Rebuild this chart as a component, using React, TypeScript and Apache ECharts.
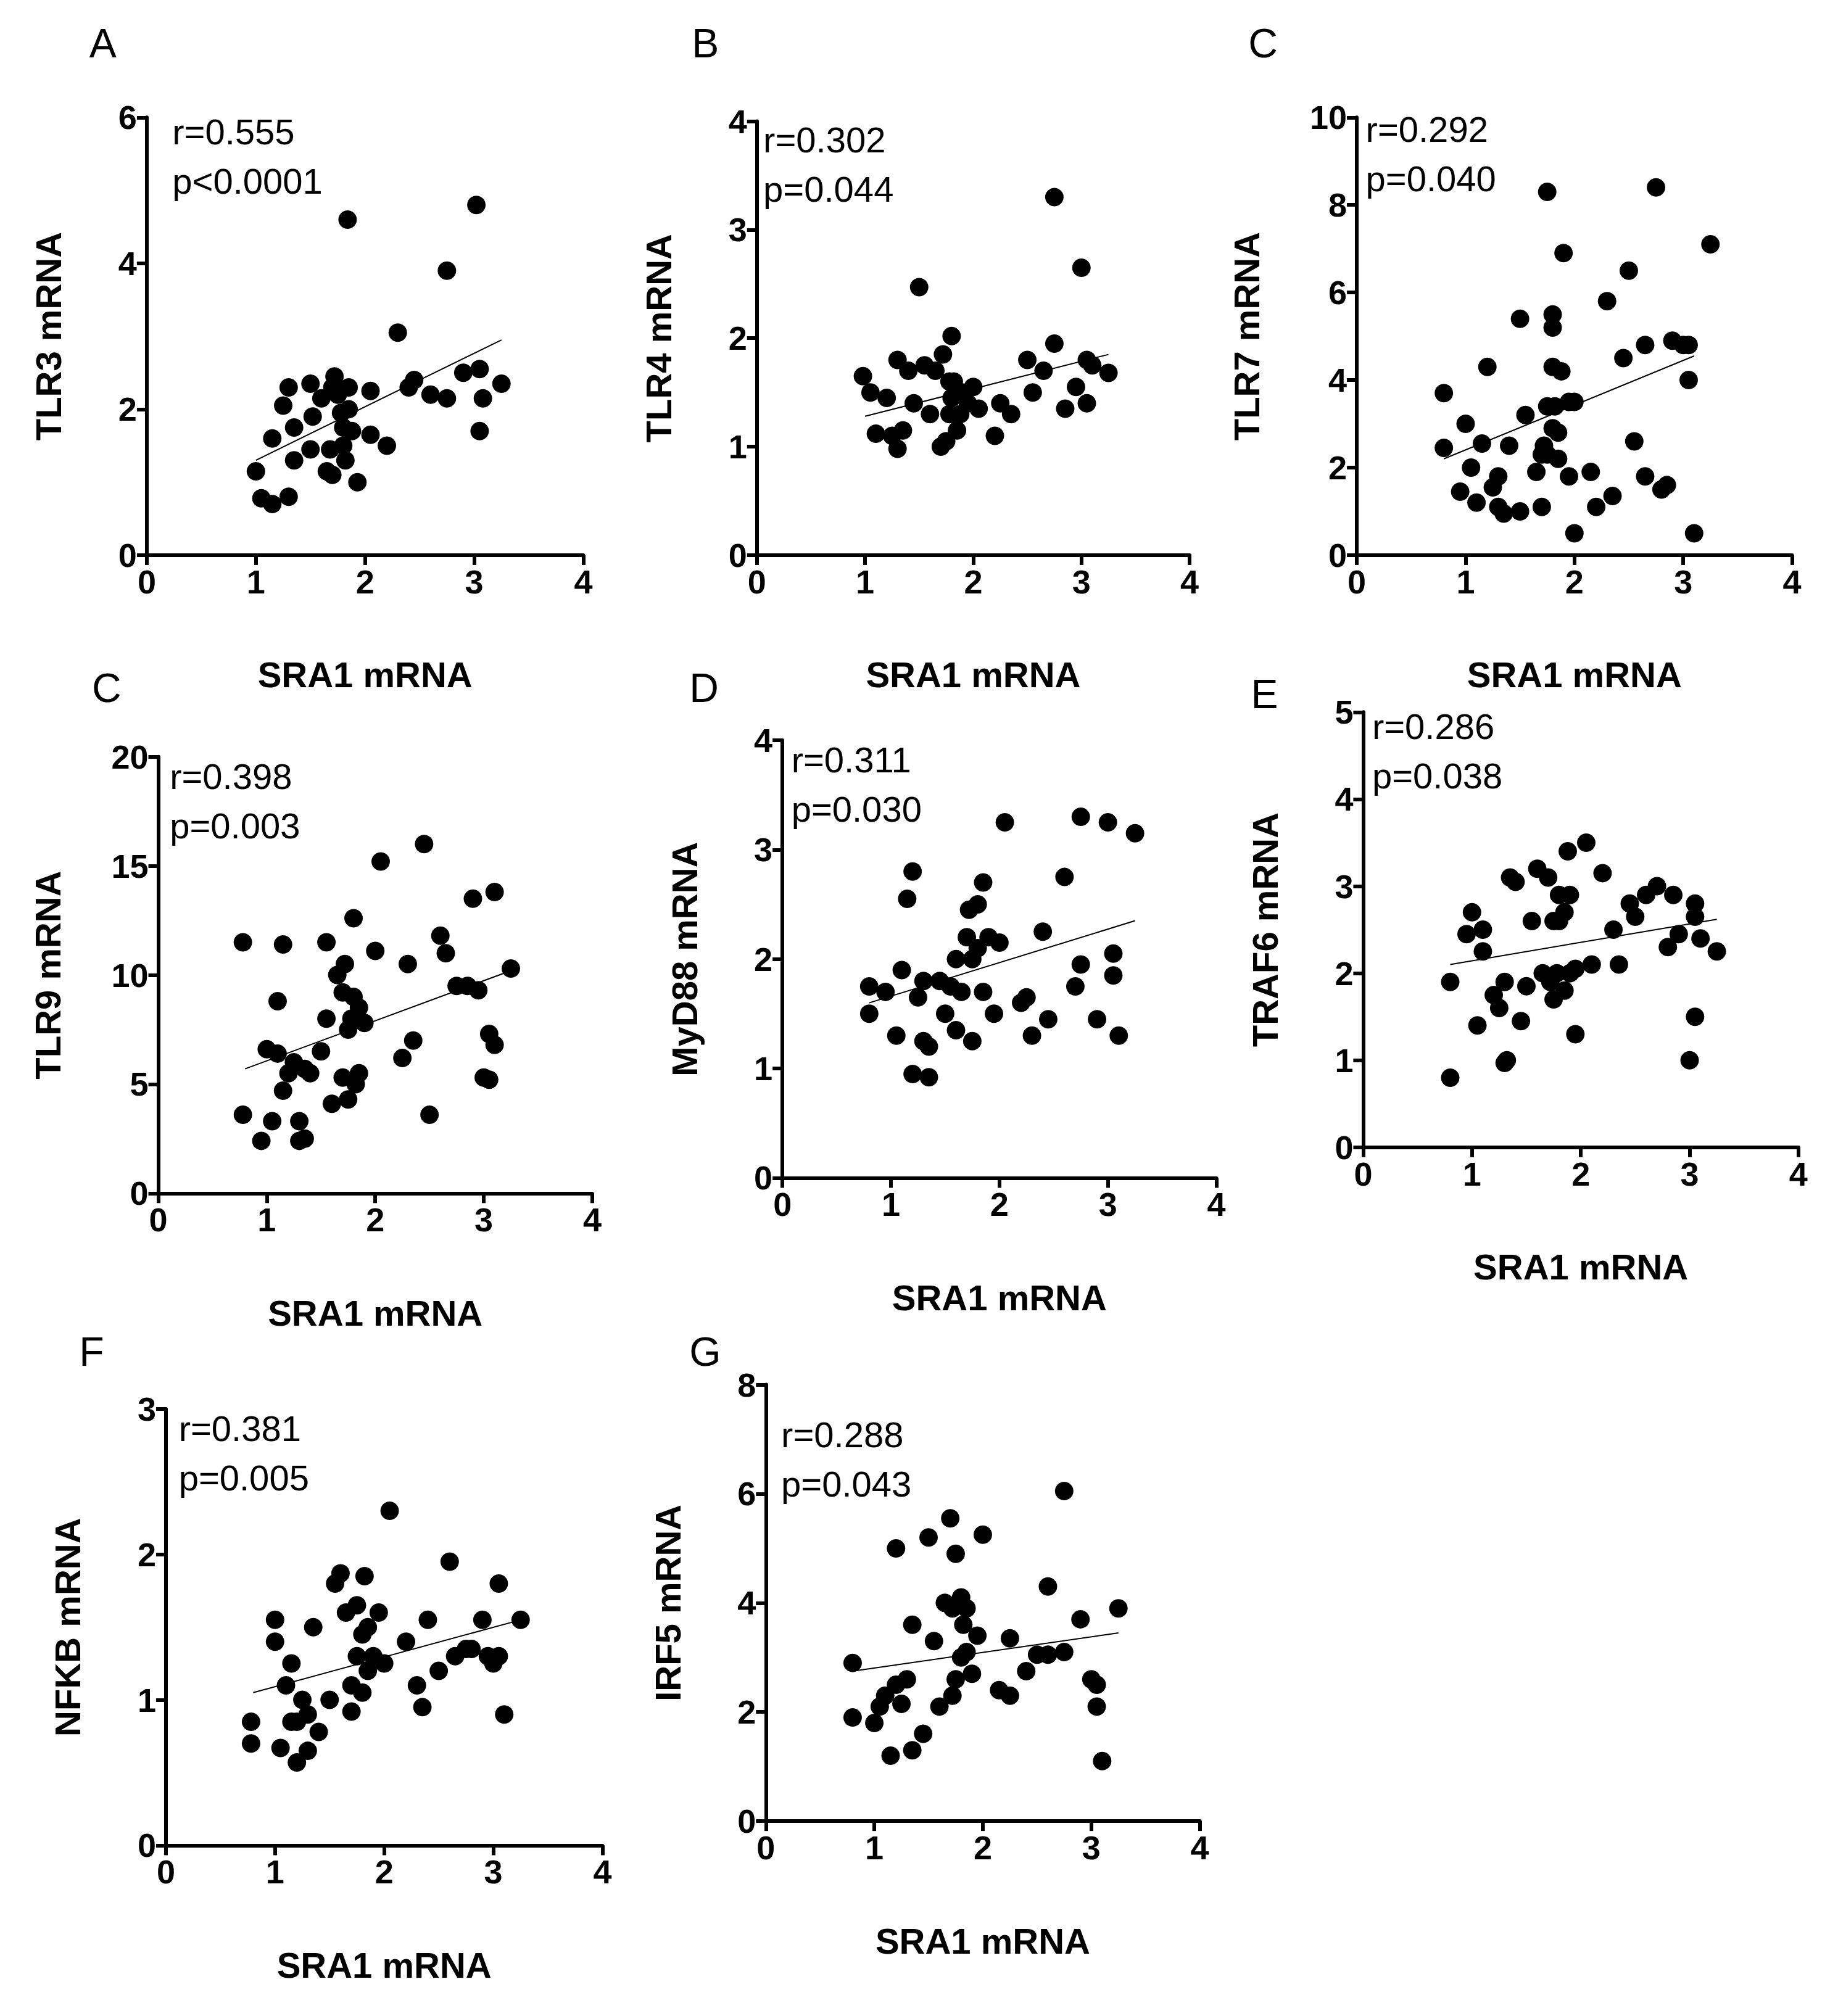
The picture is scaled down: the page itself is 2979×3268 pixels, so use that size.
import { useEffect, useRef } from "react";
import * as echarts from "echarts";

// values: [SRA1 mRNA, target mRNA]
const tlr3 = [[1.0,1.15],[1.05,0.78],[1.15,1.6],[1.15,0.7],[1.25,2.05],[1.3,2.3],[1.3,0.8],[1.35,1.3],[1.35,1.75],[1.5,1.45],[1.5,2.35],[1.6,2.15],[1.65,1.15],[1.7,1.1],[1.7,2.3],[1.72,2.45],[1.75,2.2],[1.78,1.95],[1.8,1.75],[1.8,1.5],[1.82,1.3],[1.85,2.3],[1.85,2.0],[1.88,1.7],[1.93,1.0],[1.84,4.6],[2.05,1.65],[2.05,2.25],[2.2,1.5],[2.3,3.05],[2.4,2.3],[2.45,2.4],[2.6,2.2],[2.75,2.15],[2.75,3.9],[2.9,2.5],[3.02,4.8],[3.05,1.7],[3.08,2.15],[3.05,2.55],[3.25,2.35],[1.68,1.45],[1.52,1.9]];
const tlr4 = [[0.98,1.65],[1.05,1.5],[1.1,1.12],[1.2,1.45],[1.25,1.1],[1.3,1.8],[1.3,0.98],[1.35,1.15],[1.45,1.4],[1.5,2.47],[1.55,1.75],[1.6,1.3],[1.65,1.7],[1.7,1.0],[1.72,1.85],[1.75,1.05],[1.78,1.3],[1.8,2.02],[1.8,1.45],[1.82,1.6],[1.85,1.15],[1.88,1.3],[1.9,1.5],[1.95,1.4],[2.0,1.55],[2.05,1.35],[2.2,1.1],[2.25,1.4],[2.35,1.3],[2.5,1.8],[2.55,1.5],[2.65,1.7],[2.75,1.95],[2.75,3.3],[2.85,1.35],[2.95,1.55],[3.0,2.65],[3.05,1.8],[3.05,1.4],[3.1,1.75],[3.25,1.68],[1.78,1.6],[1.4,1.7]];
const tlr7 = [[0.8,3.7],[0.8,2.45],[0.95,1.45],[1.0,3.0],[1.05,2.0],[1.1,1.2],[1.15,2.55],[1.2,4.3],[1.25,1.55],[1.3,1.8],[1.3,1.1],[1.35,0.95],[1.4,2.5],[1.5,1.0],[1.5,5.4],[1.55,3.2],[1.65,1.9],[1.7,1.1],[1.72,2.5],[1.75,8.3],[1.75,2.3],[1.8,2.9],[1.8,4.3],[1.8,5.2],[1.8,5.5],[1.82,3.4],[1.85,2.2],[1.85,2.8],[1.88,4.2],[1.9,6.9],[1.95,1.8],[1.95,3.5],[2.0,0.5],[2.0,3.5],[2.15,1.9],[2.2,1.1],[2.3,5.8],[2.35,1.35],[2.45,4.5],[2.5,6.5],[2.55,2.6],[2.65,1.8],[2.65,4.8],[2.75,8.4],[2.8,1.5],[2.85,1.6],[2.9,4.9],[3.0,4.8],[3.05,4.8],[3.05,4.0],[3.1,0.5],[3.25,7.1],[1.75,3.4],[1.7,2.3]];
const tlr9 = [[0.78,11.5],[0.78,3.6],[0.95,2.4],[1.0,6.6],[1.05,3.3],[1.1,6.4],[1.1,8.8],[1.15,11.4],[1.15,4.7],[1.2,5.5],[1.25,6.0],[1.3,3.3],[1.3,2.4],[1.35,2.5],[1.35,5.7],[1.4,5.5],[1.55,8.0],[1.55,11.5],[1.6,4.1],[1.65,10.0],[1.7,5.3],[1.72,10.5],[1.75,4.3],[1.75,7.5],[1.78,8.0],[1.8,9.0],[1.8,12.6],[1.82,5.0],[1.85,5.5],[1.85,8.5],[1.9,7.8],[2.0,11.1],[2.05,15.2],[2.25,6.2],[2.3,10.5],[2.35,7.0],[2.45,16.0],[2.5,3.6],[2.6,11.8],[2.65,11.0],[2.75,9.5],[2.85,9.5],[2.9,13.5],[2.95,9.3],[3.0,5.3],[3.05,5.2],[3.05,7.3],[3.1,13.8],[3.1,6.8],[3.25,10.3],[1.7,9.2],[1.5,6.5]];
const myd88 = [[0.8,1.75],[0.8,1.5],[0.95,1.7],[1.05,1.3],[1.1,1.9],[1.15,2.55],[1.2,2.8],[1.2,0.95],[1.25,1.65],[1.3,1.25],[1.3,1.8],[1.35,0.92],[1.35,1.2],[1.45,1.8],[1.5,1.5],[1.6,1.35],[1.6,2.0],[1.65,1.7],[1.7,2.2],[1.72,2.45],[1.75,1.25],[1.75,2.0],[1.8,2.5],[1.8,2.1],[1.85,2.7],[1.85,1.7],[1.9,2.2],[1.95,1.5],[2.0,2.15],[2.05,3.25],[2.2,1.6],[2.25,1.65],[2.3,1.3],[2.4,2.25],[2.45,1.45],[2.6,2.75],[2.7,1.75],[2.75,1.95],[2.75,3.3],[2.9,1.45],[3.0,3.25],[3.05,2.05],[3.05,1.85],[3.1,1.3],[3.25,3.15],[1.55,1.75]];
const traf6 = [[0.8,0.8],[0.8,1.9],[0.95,2.45],[1.0,2.7],[1.05,1.4],[1.1,2.25],[1.1,2.5],[1.2,1.75],[1.25,1.6],[1.3,1.9],[1.3,0.97],[1.32,1.0],[1.35,3.1],[1.4,3.05],[1.45,1.45],[1.5,1.85],[1.55,2.6],[1.6,3.2],[1.65,2.0],[1.7,3.1],[1.72,1.9],[1.75,1.7],[1.78,2.0],[1.8,2.6],[1.8,2.9],[1.85,1.8],[1.85,2.7],[1.88,3.4],[1.9,2.0],[1.9,2.9],[1.95,2.05],[1.95,1.3],[2.05,3.5],[2.1,2.1],[2.2,3.15],[2.3,2.5],[2.35,2.1],[2.45,2.8],[2.5,2.65],[2.6,2.9],[2.7,3.0],[2.8,2.3],[2.85,2.9],[2.9,2.45],[3.0,1.0],[3.05,2.65],[3.05,2.8],[3.05,1.5],[3.1,2.4],[3.25,2.25],[1.75,2.6]];
const nfkb = [[0.78,0.85],[0.78,0.7],[1.0,1.55],[1.0,1.4],[1.05,0.67],[1.1,1.1],[1.15,1.25],[1.2,0.85],[1.2,0.57],[1.25,1.0],[1.3,0.9],[1.3,0.65],[1.35,1.5],[1.4,0.78],[1.5,1.0],[1.55,1.8],[1.6,1.87],[1.65,1.6],[1.7,0.92],[1.75,1.65],[1.75,1.3],[1.8,1.45],[1.8,1.05],[1.82,1.85],[1.85,1.2],[1.85,1.5],[1.9,1.3],[1.95,1.6],[2.0,1.25],[2.05,2.3],[2.2,1.4],[2.3,1.1],[2.35,0.95],[2.4,1.55],[2.5,1.2],[2.6,1.95],[2.65,1.3],[2.75,1.35],[2.8,1.35],[2.9,1.55],[2.95,1.3],[3.0,1.25],[3.05,1.8],[3.05,1.3],[3.1,0.9],[3.25,1.55],[1.15,0.85],[1.7,1.1]];
const irf5 = [[0.8,2.9],[0.8,1.9],[1.0,1.8],[1.05,2.1],[1.1,2.3],[1.15,1.2],[1.2,5.0],[1.2,2.5],[1.25,2.15],[1.3,2.6],[1.35,1.3],[1.35,3.6],[1.45,1.6],[1.5,5.2],[1.55,3.3],[1.6,2.1],[1.65,4.0],[1.7,5.55],[1.72,2.3],[1.72,3.9],[1.75,2.6],[1.75,4.9],[1.8,4.1],[1.8,3.0],[1.82,3.6],[1.85,3.1],[1.85,3.9],[1.9,2.7],[1.95,3.4],[2.0,5.25],[2.15,2.4],[2.25,2.3],[2.25,3.35],[2.4,2.75],[2.5,3.05],[2.6,4.3],[2.6,3.05],[2.75,6.05],[2.75,3.1],[2.9,3.7],[3.0,2.6],[3.05,2.1],[3.05,2.5],[3.1,1.1],[3.25,3.9]];

// fitted line end points
const fits = [
  [[1, 1.3], [3.25, 2.95]],
  [[1, 1.28], [3.25, 1.85]],
  [[0.8, 2.2], [3.1, 4.55]],
  [[0.8, 5.7], [3.25, 10.2]],
  [[0.8, 1.6], [3.25, 2.35]],
  [[0.8, 2.1], [3.25, 2.62]],
  [[0.8, 1.05], [3.25, 1.55]],
  [[0.8, 2.75], [3.25, 3.45]],
];
const yNames = ["TLR3 mRNA", "TLR4 mRNA", "TLR7 mRNA", "TLR9 mRNA", "MyD88 mRNA", "TRAF6 mRNA", "NFKB mRNA", "IRF5 mRNA"];
const letters = ["A", "B", "C", "C", "D", "E", "F", "G"];
const stats = [
  ["r=0.555", "p<0.0001"], ["r=0.302", "p=0.044"], ["r=0.292", "p=0.040"], ["r=0.398", "p=0.003"],
  ["r=0.311", "p=0.030"], ["r=0.286", "p=0.038"], ["r=0.381", "p=0.005"], ["r=0.288", "p=0.043"],
];
const yMax = [6, 4, 10, 20, 4, 5, 3, 8];
const yStep = [2, 1, 2, 5, 1, 1, 1, 2];
const datasets = [tlr3, tlr4, tlr7, tlr9, myd88, traf6, nfkb, irf5];

const S = 2979 / 1440;
// layout in reference display units: x0, x4, yTop, yBottom, letter pos, stats pos
const panels = [
  { x0: 115, x4: 457, yt: 92, yb: 435, lx: 70, ly: 18, sx: 135, sy: 84 },
  { x0: 593, x4: 932, yt: 95, yb: 435, lx: 542, ly: 18, sx: 598, sy: 90 },
  { x0: 1063, x4: 1404, yt: 92, yb: 435, lx: 978, ly: 18, sx: 1070, sy: 82 },
  { x0: 124, x4: 464, yt: 593, yb: 935, lx: 72, ly: 523, sx: 133, sy: 589 },
  { x0: 613, x4: 953, yt: 580, yb: 923, lx: 540, ly: 523, sx: 620, sy: 576 },
  { x0: 1068, x4: 1409, yt: 558, yb: 899, lx: 980, ly: 528, sx: 1075, sy: 550 },
  { x0: 130, x4: 472, yt: 1104, yb: 1446, lx: 62, ly: 1043, sx: 140, sy: 1100 },
  { x0: 600, x4: 940, yt: 1085, yb: 1427, lx: 540, ly: 1043, sx: 612, sy: 1105 },
];

const FONT = "Liberation Sans";

function App() {
  const chartRef = useRef(null);

  useEffect(() => {
    document.body.style.margin = "0";
    const chart = echarts.init(chartRef.current, null, { renderer: "svg" });
    const axisCommon = {
      axisLine: { lineStyle: { color: "#000", width: 6 } },
      axisTick: { show: true, length: 16, lineStyle: { color: "#000", width: 6 } },
      axisLabel: { color: "#000", fontSize: 54, fontWeight: "bold", fontFamily: FONT, margin: 16 },
      splitLine: { show: false },
      nameTextStyle: { color: "#000", fontSize: 58, fontWeight: "bold", fontFamily: FONT },
      nameLocation: "middle",
    };
    const grid = panels.map((p) => ({
      left: p.x0 * S, top: p.yt * S, width: (p.x4 - p.x0) * S, height: (p.yb - p.yt) * S,
    }));
    const xAxis = panels.map((_, i) => ({
      ...axisCommon, type: "value", gridIndex: i, min: 0, max: 4, interval: 1,
      name: "SRA1 mRNA", nameGap: 165,
    }));
    const yAxis = panels.map((_, i) => ({
      ...axisCommon, type: "value", gridIndex: i, min: 0, max: yMax[i], interval: yStep[i],
      name: yNames[i], nameGap: yMax[i] >= 10 ? 150 : 130,
    }));
    const series: any[] = [];
    datasets.forEach((d, i) => {
      series.push({
        type: "scatter", xAxisIndex: i, yAxisIndex: i, data: d, symbolSize: 30,
        itemStyle: { color: "#000", opacity: 1 },
      });
      series.push({
        type: "line", xAxisIndex: i, yAxisIndex: i, data: fits[i], symbol: "none",
        lineStyle: { color: "#000", width: 2 },
      });
    });
    const graphic: any[] = [];
    panels.forEach((p, i) => {
      graphic.push({
        type: "text", left: p.lx * S, top: p.ly * S,
        style: { text: letters[i], fontSize: 66, fontFamily: FONT, fill: "#000" },
      });
      graphic.push({
        type: "text", left: p.sx * S, top: p.sy * S,
        style: { text: stats[i].join("\n"), fontSize: 58, lineHeight: 80, fontFamily: FONT, fill: "#000" },
      });
    });
    chart.setOption({
      animation: false,
      backgroundColor: "#fff",
      grid, xAxis, yAxis, series, graphic,
    });
    return () => chart.dispose();
  }, []);

  return <div ref={chartRef} style={{ width: "2979px", height: "3268px" }}></div>;
}

export default App;
